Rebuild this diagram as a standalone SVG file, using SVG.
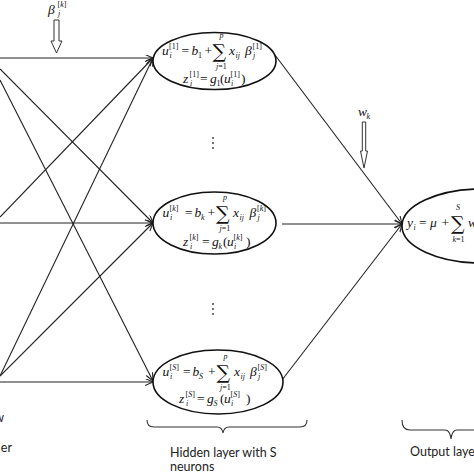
<svg xmlns="http://www.w3.org/2000/svg" width="474" height="474" viewBox="0 0 474 474">
<defs>
<style>
.ln{stroke:#222;stroke-width:1.1;fill:none}
.el{fill:#fff;stroke:#111;stroke-width:1.6}
.m{font-family:"Liberation Serif","DejaVu Serif",serif;font-size:13.5px;fill:#111}
.i{font-style:italic}
.s{font-size:8px}
.sg{font-family:"DejaVu Serif","Liberation Serif",serif;font-size:19px;fill:#111}
.lab{font-family:Lato,"Liberation Sans",sans-serif;font-size:12.5px;fill:#222}
.ha{fill:#fff;stroke:#333;stroke-width:1}
.br{fill:none;stroke:#333;stroke-width:1.1}
</style>
<marker id="ah" markerUnits="userSpaceOnUse" markerWidth="12" markerHeight="12" refX="8" refY="3.5" orient="auto">
<path d="M0,0 L8,3.5 L0,7" fill="none" stroke="#222" stroke-width="1.1"/>
</marker>
</defs>
<rect width="474" height="474" fill="#fff"/>

<g id="connectors">
<line class="ln" x1="0" y1="58" x2="153" y2="58" marker-end="url(#ah)"/>
<line class="ln" x1="0" y1="69" x2="153" y2="223" marker-end="url(#ah)"/>
<line class="ln" x1="0" y1="80" x2="153" y2="381" marker-end="url(#ah)"/>
<line class="ln" x1="0" y1="217" x2="153" y2="58" marker-end="url(#ah)"/>
<line class="ln" x1="0" y1="223" x2="153" y2="223" marker-end="url(#ah)"/>
<line class="ln" x1="0" y1="376" x2="153" y2="58" marker-end="url(#ah)"/>
<line class="ln" x1="0" y1="376" x2="153" y2="223" marker-end="url(#ah)"/>
<line class="ln" x1="0" y1="382" x2="153" y2="382" marker-end="url(#ah)"/>
<line class="ln" x1="275" y1="55" x2="402" y2="224" marker-end="url(#ah)"/>
<line class="ln" x1="282" y1="224" x2="402" y2="224" marker-end="url(#ah)"/>
<line class="ln" x1="282" y1="380" x2="402" y2="224" marker-end="url(#ah)"/>
</g>

<g id="beta-arrow">
<polygon class="ha" points="54,20 59,20 59,41 62,41 56.5,53 51,41 54,41"/>
<text class="m i" x="48" y="14" font-size="14">β</text>
<text class="m s" x="57.5" y="7">[<tspan class="i">k</tspan>]</text>
<text class="m s i" x="58" y="16">j</text>
</g>

<g id="w-arrow">
<polygon class="ha" points="362.3,122 365.7,122 365.7,151 367.5,151 364,168 360.5,151 362.3,151"/>
<text class="m i" x="358" y="116" font-size="12">w</text>
<text class="m s i" x="366.5" y="119">k</text>
</g>

<g id="hidden-1" transform="translate(0,61)">
<ellipse class="el" cx="214.5" cy="0" rx="61.5" ry="28.5"/>
<text class="m i" x="162" y="-6">u</text>
<text class="m s" x="169" y="-12">[1]</text>
<text class="m s i" x="169.5" y="-3">i</text>
<text class="m" x="181.5" y="-6">=</text>
<text class="m i" x="191.5" y="-6">b</text>
<text class="m s" x="198" y="-3">1</text>
<text class="m" x="204.5" y="-6">+</text>
<text class="sg" x="212.5" y="-3">∑</text>
<text class="m s i" x="219.5" y="-23">p</text>
<text class="m s" x="216" y="8"><tspan class="i">j</tspan>=1</text>
<text class="m i" x="229" y="-6">x</text>
<text class="m s i" x="235.5" y="-3">ij</text>
<text class="m i" x="245" y="-6">β</text>
<text class="m s" x="252.5" y="-12">[1]</text>
<text class="m s i" x="253" y="-3">j</text>
<text class="m i" x="183" y="22">z</text>
<text class="m s" x="189.5" y="16">[1]</text>
<text class="m s i" x="190" y="25">i</text>
<text class="m" x="200" y="22">=</text>
<text class="m i" x="210" y="22">g</text>
<text class="m s" x="216.5" y="25">1</text>
<text class="m" x="220" y="22">(</text>
<text class="m i" x="224" y="22">u</text>
<text class="m s" x="230.5" y="16">[1]</text>
<text class="m s i" x="231" y="25">i</text>
<text class="m" x="241" y="22">)</text>
</g>

<g id="dots-1" fill="#333">
<circle cx="213" cy="138" r="0.9"/>
<circle cx="213" cy="143" r="0.9"/>
<circle cx="213" cy="148" r="0.9"/>
</g>

<g id="hidden-k" transform="translate(0,223)">
<ellipse class="el" cx="214.5" cy="0" rx="61.5" ry="31"/>
<text class="m i" x="162.5" y="-6">u</text>
<text class="m s" x="169.5" y="-12">[<tspan class="i">k</tspan>]</text>
<text class="m s i" x="170" y="-3">i</text>
<text class="m" x="185" y="-6">=</text>
<text class="m i" x="194.5" y="-6">b</text>
<text class="m s i" x="201" y="-3">k</text>
<text class="m" x="207.5" y="-6">+</text>
<text class="sg" x="216" y="-3">∑</text>
<text class="m s i" x="223" y="-23">p</text>
<text class="m s" x="219.5" y="8"><tspan class="i">j</tspan>=1</text>
<text class="m i" x="233" y="-6">x</text>
<text class="m s i" x="239.5" y="-3">ij</text>
<text class="m i" x="249.5" y="-6">β</text>
<text class="m s" x="257" y="-12">[<tspan class="i">k</tspan>]</text>
<text class="m s i" x="257.5" y="-3">j</text>
<text class="m i" x="183" y="23">z</text>
<text class="m s" x="189.5" y="17">[<tspan class="i">k</tspan>]</text>
<text class="m s i" x="190" y="26">i</text>
<text class="m" x="202" y="23">=</text>
<text class="m i" x="212" y="23">g</text>
<text class="m s i" x="218.5" y="26">k</text>
<text class="m" x="223" y="23">(</text>
<text class="m i" x="227" y="23">u</text>
<text class="m s" x="233.5" y="17">[<tspan class="i">k</tspan>]</text>
<text class="m s i" x="234" y="26">i</text>
<text class="m" x="246" y="23">)</text>
</g>

<g id="dots-2" fill="#333">
<circle cx="213" cy="304" r="0.9"/>
<circle cx="213" cy="309" r="0.9"/>
<circle cx="213" cy="314" r="0.9"/>
</g>

<g id="hidden-S" transform="translate(0,382)">
<ellipse class="el" cx="218" cy="0" rx="65" ry="32"/>
<text class="m i" x="162.5" y="-6">u</text>
<text class="m s" x="169.5" y="-12">[<tspan class="i">S</tspan>]</text>
<text class="m s i" x="170" y="-3">i</text>
<text class="m" x="183" y="-6">=</text>
<text class="m i" x="192.5" y="-6">b</text>
<text class="m s i" x="199" y="-3">S</text>
<text class="m" x="208" y="-6">+</text>
<text class="sg" x="216.5" y="-3">∑</text>
<text class="m s i" x="223.5" y="-23">p</text>
<text class="m s" x="220" y="8"><tspan class="i">j</tspan>=1</text>
<text class="m i" x="234" y="-6">x</text>
<text class="m s i" x="240.5" y="-3">ij</text>
<text class="m i" x="250" y="-6">β</text>
<text class="m s" x="257.5" y="-12">[<tspan class="i">S</tspan>]</text>
<text class="m s i" x="258" y="-3">j</text>
<text class="m i" x="179" y="21">z</text>
<text class="m s" x="185.5" y="15">[<tspan class="i">S</tspan>]</text>
<text class="m s i" x="186" y="24">i</text>
<text class="m" x="197" y="21">=</text>
<text class="m i" x="207" y="21">g</text>
<text class="m s i" x="213.5" y="24">S</text>
<text class="m" x="220" y="21">(</text>
<text class="m i" x="224" y="21">u</text>
<text class="m s" x="230.5" y="15">[<tspan class="i">S</tspan>]</text>
<text class="m s i" x="231" y="24">i</text>
<text class="m" x="246" y="21">)</text>
</g>

<g id="output">
<ellipse class="el" cx="482" cy="226" rx="80" ry="37"/>
<text class="m i" x="407" y="227">y</text>
<text class="m s i" x="413.5" y="230">i</text>
<text class="m" x="419" y="227">=</text>
<text class="m i" x="430" y="227">μ</text>
<text class="m" x="441.5" y="227">+</text>
<text class="sg" x="451" y="230">∑</text>
<text class="m s i" x="456" y="210">S</text>
<text class="m s" x="452.5" y="242"><tspan class="i">k</tspan>=1</text>
<text class="m i" x="468" y="227">w</text>
</g>

<g id="braces">
<path class="br" d="M147,420 Q147,427 154,427 L217,427 Q222,427 223,433 Q224,427 229,427 L300,427 Q307,427 307,420"/>
<path class="br" d="M402,420 Q402,430 410,430 L445,430 Q450,430 451,439 Q452,430 457,430 L500,430"/>
</g>

<g id="labels">
<text class="lab" x="170" y="457">Hidden layer with S</text>
<text class="lab" x="170" y="471">neurons</text>
<text class="lab" x="410" y="456">Output layer</text>
<text class="lab" x="4" y="422" text-anchor="end">w</text>
<text class="lab" x="12" y="452" text-anchor="end">er</text>
</g>
</svg>
